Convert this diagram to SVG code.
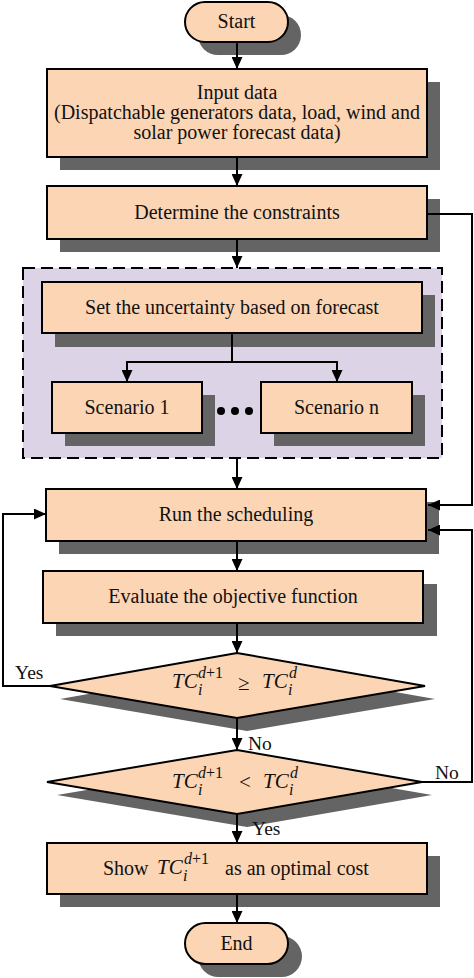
<svg xmlns="http://www.w3.org/2000/svg" width="474" height="978" viewBox="0 0 474 978">
<defs>
<style>
.box{fill:#fcd5b5;stroke:#000;stroke-width:2}
.sh{fill:#646464}
.t{font-family:"Liberation Serif","Times New Roman",serif;font-size:20px;fill:#111}
.m{font-family:"Liberation Serif","Times New Roman",serif;font-style:italic;font-size:21px;fill:#111}
.ms{font-family:"Liberation Serif","Times New Roman",serif;font-style:italic;font-size:16px;fill:#111}
.up{font-style:normal}
.ln{fill:none;stroke:#000;stroke-width:2}
.lbl{font-family:"Liberation Serif","Times New Roman",serif;font-size:19.5px;fill:#111}
</style>
<marker id="ah" markerUnits="userSpaceOnUse" markerWidth="12" markerHeight="11" refX="12" refY="5.5" orient="auto">
<path d="M0,0 L12,5.5 L0,11 z" fill="#000"/>
</marker>
</defs>
<rect width="474" height="978" fill="#fff"/>

<g id="group-uncertainty">
<rect x="23" y="268" width="419" height="190" fill="#dcd3e6" stroke="#000" stroke-width="2" stroke-dasharray="12,6"/>
</g>

<g id="start">
<rect class="sh" x="198" y="15" width="103" height="40" rx="20"/>
<rect class="box" x="185" y="2" width="103" height="40" rx="20"/>
<text class="t" x="236.5" y="28" text-anchor="middle">Start</text>
</g>

<g id="input">
<rect class="sh" x="60" y="82" width="380" height="88"/>
<rect class="box" x="47" y="69" width="380" height="88"/>
<text class="t" x="237" y="99" text-anchor="middle">Input data</text>
<text class="t" x="237" y="119" text-anchor="middle">(Dispatchable generators data, load, wind and</text>
<text class="t" x="237" y="139" text-anchor="middle">solar power forecast data)</text>
</g>

<g id="constraints">
<rect class="sh" x="60" y="199" width="380" height="53"/>
<rect class="box" x="47" y="186" width="380" height="53"/>
<text class="t" x="237" y="219" text-anchor="middle">Determine the constraints</text>
</g>

<g id="uncertainty">
<rect class="sh" x="55" y="295" width="380" height="52"/>
<rect class="box" x="42" y="282" width="380" height="51"/>
<text class="t" x="232" y="314" text-anchor="middle">Set the uncertainty based on forecast</text>
</g>

<g id="scenario1">
<rect class="sh" x="65" y="395" width="150" height="51"/>
<rect class="box" x="52" y="382" width="150" height="51"/>
<text class="t" x="127" y="414" text-anchor="middle">Scenario 1</text>
</g>

<g id="dots">
<circle cx="221" cy="411" r="4" fill="#000"/>
<circle cx="235" cy="411" r="4" fill="#000"/>
<circle cx="249" cy="411" r="4" fill="#000"/>
</g>

<g id="scenarion">
<rect class="sh" x="274" y="395" width="151" height="51"/>
<rect class="box" x="261" y="382" width="151" height="51"/>
<text class="t" x="336.5" y="414" text-anchor="middle">Scenario n</text>
</g>

<g id="run">
<rect class="sh" x="59" y="502" width="380" height="52"/>
<rect class="box" x="46" y="489" width="380" height="52"/>
<text class="t" x="236" y="521" text-anchor="middle">Run the scheduling</text>
</g>

<g id="evaluate">
<rect class="sh" x="56" y="584" width="381" height="52"/>
<rect class="box" x="43" y="571" width="380" height="52"/>
<text class="t" x="233" y="603" text-anchor="middle">Evaluate the objective function</text>
</g>

<g id="decision1">
<polygon class="sh" points="247,666 435,699 247,731 60,699"/>
<polygon class="box" points="237,653 425,686 237,718 50,686"/>
<text class="m" x="172" y="688">TC</text>
<text class="ms" x="198" y="695">i</text>
<text class="ms" x="198" y="678">d<tspan class="up">+1</tspan></text>
<text class="m up" x="238" y="690">≥</text>
<text class="m" x="262" y="688">TC</text>
<text class="ms" x="288" y="695">i</text>
<text class="ms" x="289" y="678">d</text>
</g>

<g id="decision2">
<polygon class="sh" points="247,763 432,795 247,827 57,795"/>
<polygon class="box" points="237,750 422,782 237,814 47,782"/>
<text class="m" x="172" y="788">TC</text>
<text class="ms" x="198" y="795">i</text>
<text class="ms" x="198" y="778">d<tspan class="up">+1</tspan></text>
<text class="m up" x="239" y="789">&lt;</text>
<text class="m" x="263" y="788">TC</text>
<text class="ms" x="289" y="795">i</text>
<text class="ms" x="290" y="778">d</text>
</g>

<g id="show">
<rect class="sh" x="60" y="856" width="380" height="51"/>
<rect class="box" x="47" y="843" width="380" height="51"/>
<text class="t" x="103" y="875">Show</text>
<text class="m" x="157" y="874">TC</text>
<text class="ms" x="183" y="881">i</text>
<text class="ms" x="184" y="864">d<tspan class="up">+1</tspan></text>
<text class="t" x="225" y="875">as an optimal cost</text>
</g>

<g id="end">
<rect class="sh" x="198" y="936" width="104" height="41" rx="20.5"/>
<rect class="box" x="185" y="923" width="103" height="41" rx="20.5"/>
<text class="t" x="236.5" y="950" text-anchor="middle">End</text>
</g>

<g id="connectors">
<path class="ln" d="M237,42 V69" marker-end="url(#ah)"/>
<path class="ln" d="M237,157 V186" marker-end="url(#ah)"/>
<path class="ln" d="M237,239 V268" marker-end="url(#ah)"/>
<path class="ln" d="M232,333 V362"/>
<path class="ln" d="M127,362 H337"/>
<path class="ln" d="M127,361 V382" marker-end="url(#ah)"/>
<path class="ln" d="M337,361 V382" marker-end="url(#ah)"/>
<path class="ln" d="M237,458 V489" marker-end="url(#ah)"/>
<path class="ln" d="M237,541 V571" marker-end="url(#ah)"/>
<path class="ln" d="M237,623 V653" marker-end="url(#ah)"/>
<path class="ln" d="M237,718 V750" marker-end="url(#ah)"/>
<path class="ln" d="M237,814 V843" marker-end="url(#ah)"/>
<path class="ln" d="M237,894 V923" marker-end="url(#ah)"/>
<path class="ln" d="M427,214 H472 V505 H428" marker-end="url(#ah)"/>
<path class="ln" d="M50,686 H3 V514 H46" marker-end="url(#ah)"/>
<path class="ln" d="M422,782 H472 V530 H428" marker-end="url(#ah)"/>
<text class="lbl" x="15" y="679">Yes</text>
<text class="lbl" x="248" y="750">No</text>
<text class="lbl" x="435" y="779">No</text>
<text class="lbl" x="252" y="835">Yes</text>
</g>
</svg>
